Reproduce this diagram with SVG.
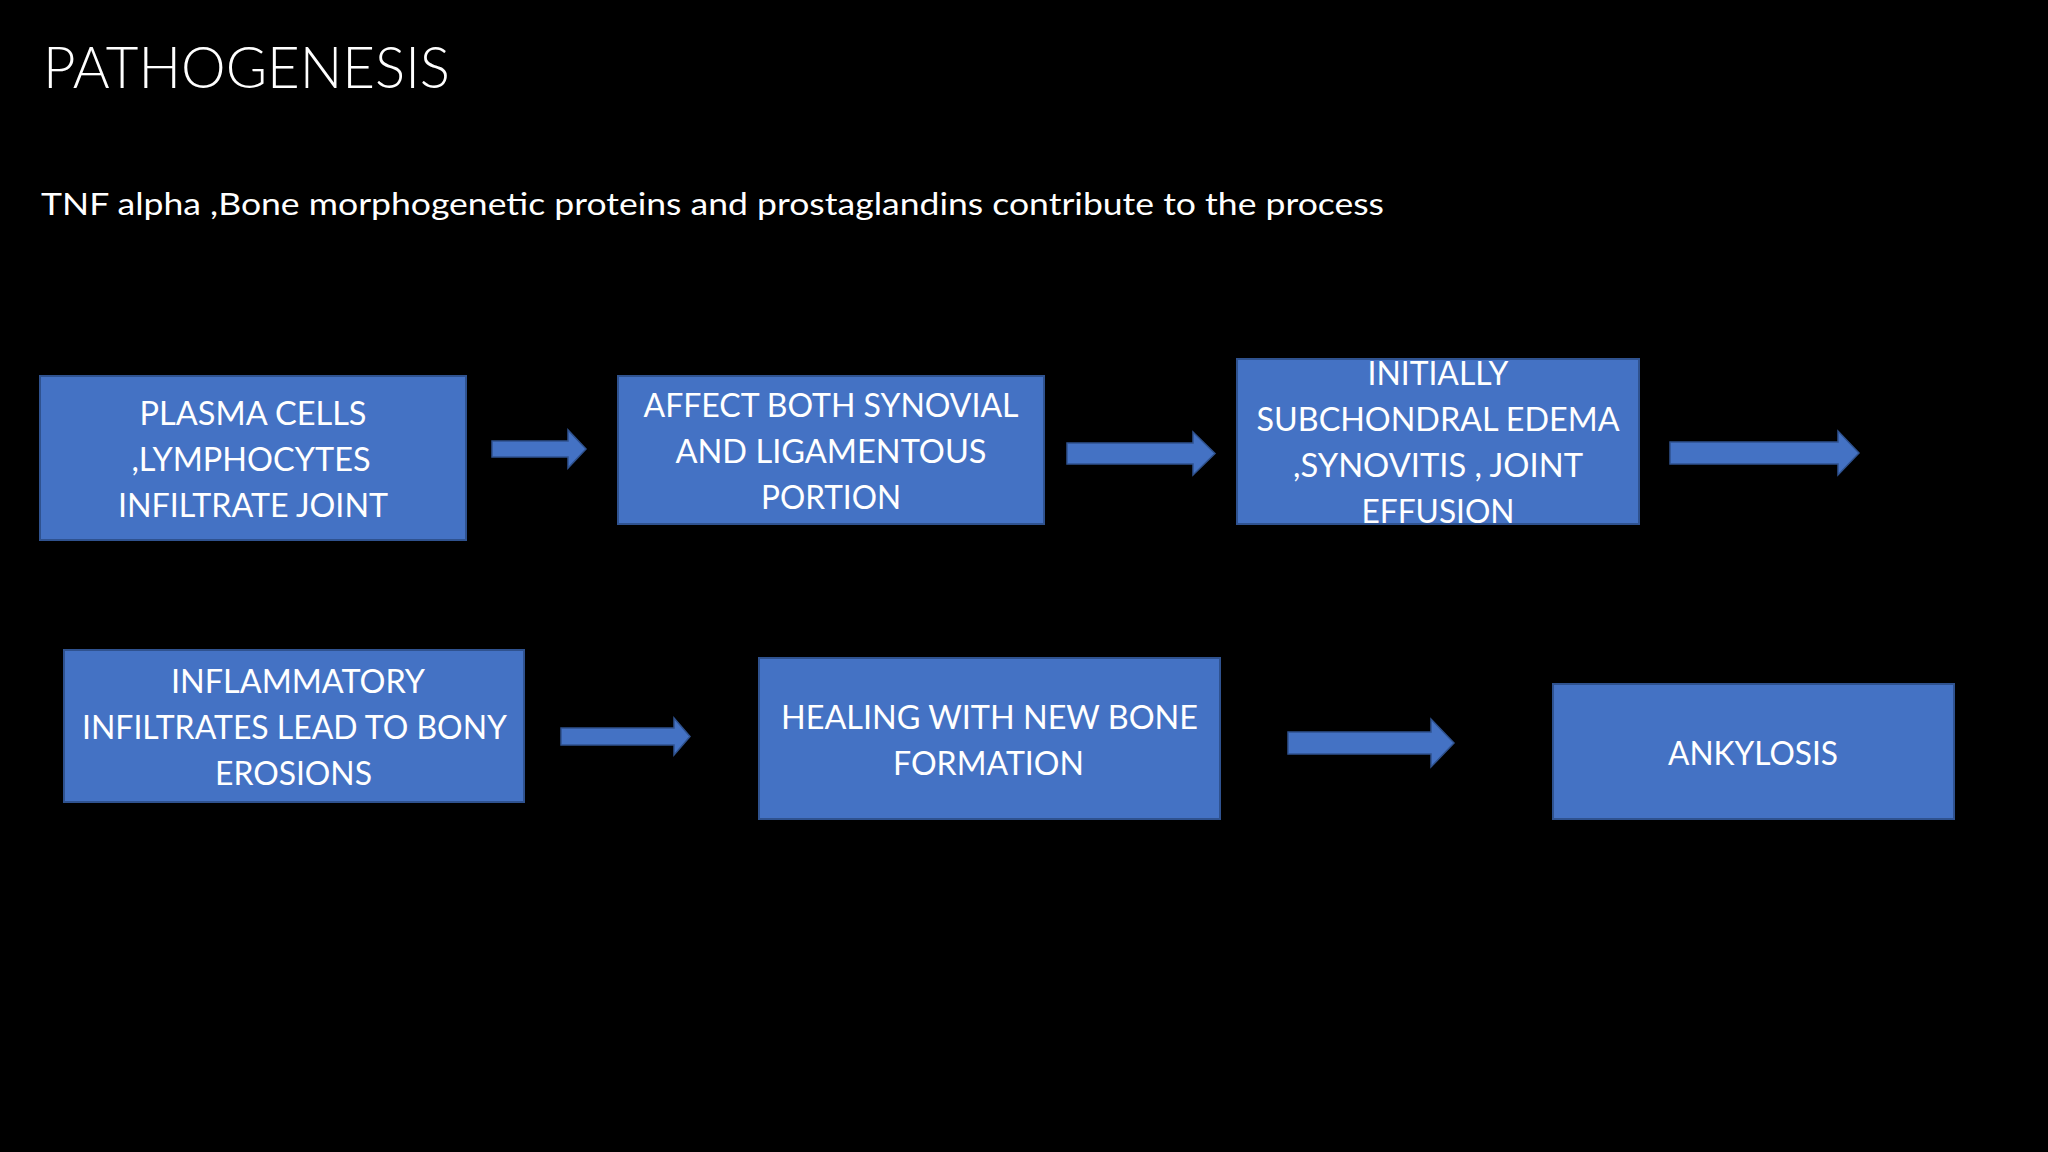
<svg xmlns="http://www.w3.org/2000/svg" width="2048" height="1152" viewBox="0 0 2048 1152">
<style>
.bg{fill:#000000}
.box{fill:#4472C4;stroke:#2F528F;stroke-width:2}
.arrow{fill:#4472C4;stroke:#2F528F;stroke-width:1.5}
.t{font-family:Lato,"Open Sans","Liberation Sans",sans-serif;fill:#FFFFFF;font-size:32px;text-anchor:middle}
.title{font-family:Lato,"Open Sans","Liberation Sans",sans-serif;fill:#FFFFFF;font-size:58px;font-weight:300}
.sub{font-family:Lato,"Open Sans","Liberation Sans",sans-serif;fill:#FFFFFF;font-size:31px}
</style>
<rect class="bg" x="0" y="0" width="2048" height="1152"/>
<g id="header">
<text class="title" x="43" y="88" textLength="407" lengthAdjust="spacingAndGlyphs">PATHOGENESIS</text>
<text class="sub" x="41" y="215" textLength="1343" lengthAdjust="spacingAndGlyphs">TNF alpha ,Bone morphogenetic proteins and prostaglandins contribute to the process</text>
</g>
<g id="connectors">
<polygon class="arrow" points="492,441 568,441 568,430 586,449 568,468 568,457 492,457"/>
<polygon class="arrow" points="1067,443 1193,443 1193,432 1215,453.5 1193,475 1193,464 1067,464"/>
<polygon class="arrow" points="1670,442 1838,442 1838,431 1859,453 1838,475 1838,464 1670,464"/>
<polygon class="arrow" points="561,728 674,728 674,718 690,736.5 674,755 674,745 561,745"/>
<polygon class="arrow" points="1288,732 1431,732 1431,719 1454,743 1431,767 1431,754 1288,754"/>
</g>
<g id="node1">
<rect class="box" x="40" y="376" width="426" height="164"/>
<text class="t" x="253" y="425" textLength="227" lengthAdjust="spacingAndGlyphs">PLASMA CELLS</text>
<text class="t" x="251" y="471" textLength="239" lengthAdjust="spacingAndGlyphs">,LYMPHOCYTES</text>
<text class="t" x="253" y="517" textLength="270" lengthAdjust="spacingAndGlyphs">INFILTRATE JOINT</text>
</g>
<g id="node2">
<rect class="box" x="618" y="376" width="426" height="148"/>
<text class="t" x="831" y="417" textLength="375" lengthAdjust="spacingAndGlyphs">AFFECT BOTH SYNOVIAL</text>
<text class="t" x="831" y="463" textLength="311" lengthAdjust="spacingAndGlyphs">AND LIGAMENTOUS</text>
<text class="t" x="831" y="509" textLength="140" lengthAdjust="spacingAndGlyphs">PORTION</text>
</g>
<g id="node3">
<rect class="box" x="1237" y="359" width="402" height="165"/>
<text class="t" x="1438" y="385" textLength="141" lengthAdjust="spacingAndGlyphs">INITIALLY</text>
<text class="t" x="1438" y="431" textLength="363" lengthAdjust="spacingAndGlyphs">SUBCHONDRAL EDEMA</text>
<text class="t" x="1438" y="477" textLength="290" lengthAdjust="spacingAndGlyphs">,SYNOVITIS , JOINT</text>
<text class="t" x="1438" y="523" textLength="153" lengthAdjust="spacingAndGlyphs">EFFUSION</text>
</g>
<g id="node4">
<rect class="box" x="64" y="650" width="460" height="152"/>
<text class="t" x="298" y="693" textLength="254" lengthAdjust="spacingAndGlyphs">INFLAMMATORY</text>
<text class="t" x="294.5" y="739" textLength="425" lengthAdjust="spacingAndGlyphs">INFILTRATES LEAD TO BONY</text>
<text class="t" x="293.5" y="785" textLength="157" lengthAdjust="spacingAndGlyphs">EROSIONS</text>
</g>
<g id="node5">
<rect class="box" x="759" y="658" width="461" height="161"/>
<text class="t" x="989.5" y="729" textLength="417" lengthAdjust="spacingAndGlyphs">HEALING WITH NEW BONE</text>
<text class="t" x="988.5" y="775" textLength="191" lengthAdjust="spacingAndGlyphs">FORMATION</text>
</g>
<g id="node6">
<rect class="box" x="1553" y="684" width="401" height="135"/>
<text class="t" x="1753" y="765" textLength="170" lengthAdjust="spacingAndGlyphs">ANKYLOSIS</text>
</g>
</svg>
